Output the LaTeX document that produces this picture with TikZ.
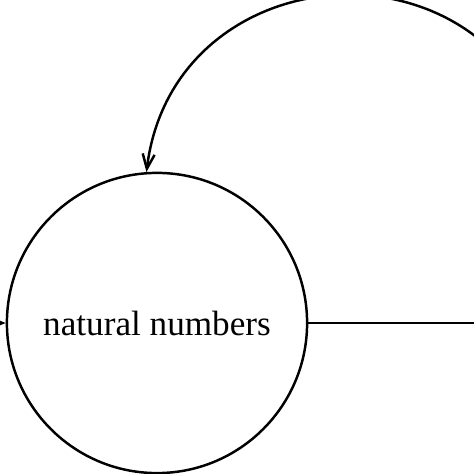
\documentclass[tikz,border=0pt]{standalone}
\usepackage{fontspec}
\setmainfont{Liberation Serif}
\usetikzlibrary{arrows.meta}

\begin{document}
\begin{tikzpicture}[x=0.01cm,y=0.01cm,auto]
			\tikzstyle{state} = [circle, draw=black, line width=0.7pt, minimum size=3cm, inner sep=0pt, font=\fontsize{10}{12}\selectfont];
			\tikzstyle{link} = [draw=black, line width=0.7pt, -{Straight Barb[length=4.2pt,width=3.4pt]}];
			\useasboundingbox (0,0) rectangle (474,474);
			\clip (0,0) rectangle (474,474);
			\draw node [state] at (157,151) (nat){natural numbers};
			\coordinate (loopsrc) at (543,344);
			\coordinate (leftsrc) at (-120,151);
			\coordinate (rightdst) at (620,151);
			
			\draw [link] (leftsrc)--(nat);
			\draw [link] (nat)--(rightdst);
			\path [link] (loopsrc) edge [out=110,in=83,looseness=1.37] (nat.94.6);
			
		\end{tikzpicture}
\end{document}
